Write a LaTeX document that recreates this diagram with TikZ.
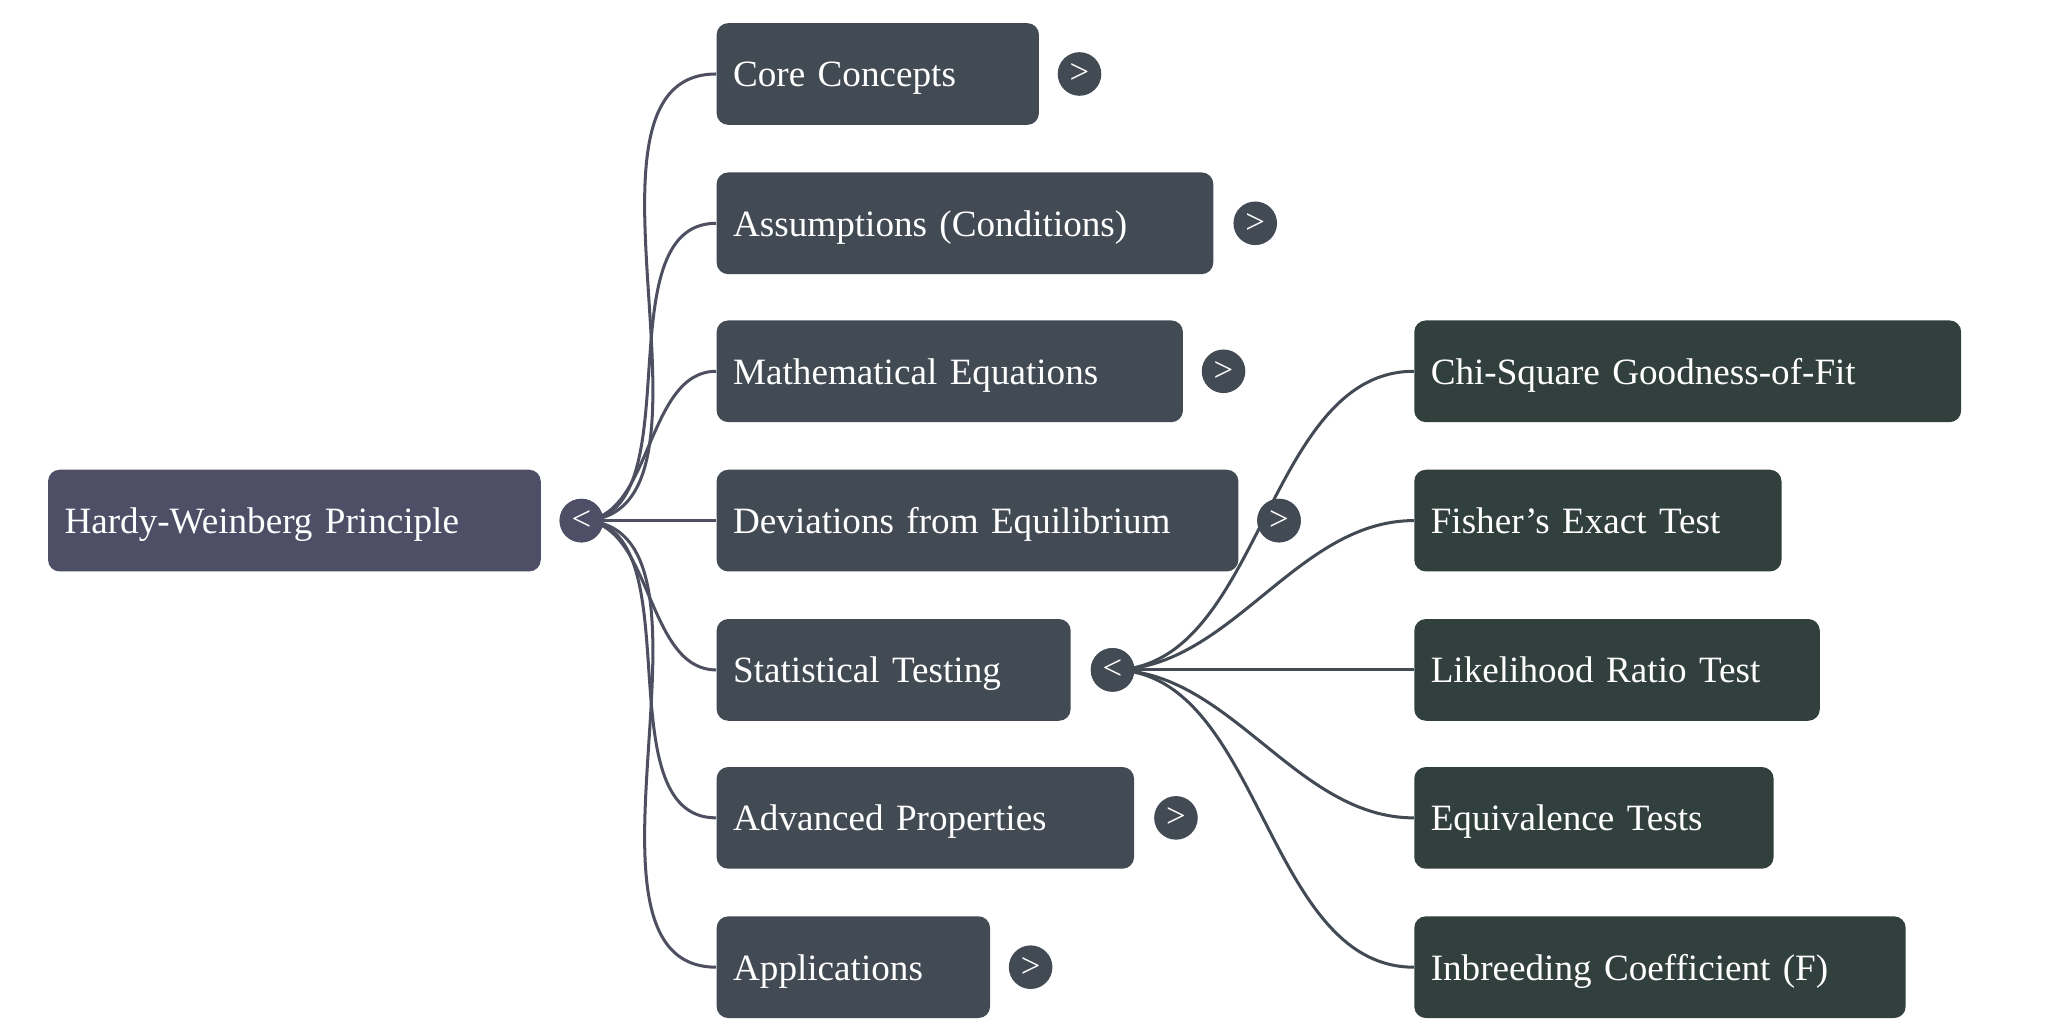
\documentclass[tikz,border=0pt]{standalone}
\usepackage{fontspec}
\setmainfont{Liberation Serif}
\usetikzlibrary{positioning}

\definecolor{rootfill}{HTML}{4E4F66}
\definecolor{topicfill}{HTML}{424A54}
\definecolor{testfill}{HTML}{313F3D}
\definecolor{linkgray}{HTML}{4E5062}

\tikzset{
  box/.style={draw=none, rounded corners=5pt, minimum height=1.54cm, text=white,
    font=\fontsize{16}{18}\selectfont, anchor=west, text depth=0pt},
  rootbox/.style={box, fill=rootfill},
  topicbox/.style={box, fill=topicfill},
  testbox/.style={box, fill=testfill},
  toggle/.style={circle, fill=topicfill, minimum size=0.66cm, inner sep=0pt, text=white,
    font=\fontsize{15}{15}\selectfont},
  link/.style={draw=linkgray, line width=1.3pt, out=0, in=180, looseness=0.9}
}

\begin{document}
\begin{tikzpicture}[x=0.02cm, y=-0.02cm]
        \useasboundingbox (0,0) rectangle (1550,780);
        % root
        \node[rootbox, minimum width=7.46cm, text width=6.96cm] (hw) at (36,394) {Hardy-Weinberg Principle};
        \node[toggle, fill=rootfill] (hwt) at (440,394) {<};
        % first level
        \node[topicbox, minimum width=4.88cm, text width=4.38cm] (core) at (542,56) {Core Concepts};
        \node[topicbox, minimum width=7.52cm, text width=7.02cm] (assum) at (542,169) {Assumptions (Conditions)};
        \node[topicbox, minimum width=7.06cm, text width=6.56cm] (math) at (542,281) {Mathematical Equations};
        \node[topicbox, minimum width=7.90cm, text width=7.40cm] (dev) at (542,394) {Deviations from Equilibrium};
        \node[topicbox, minimum width=5.36cm, text width=4.86cm] (stat) at (542,507) {Statistical Testing};
        \node[topicbox, minimum width=6.32cm, text width=5.82cm] (adv) at (542,619) {Advanced Properties};
        \node[topicbox, minimum width=4.14cm, text width=3.64cm] (app) at (542,732) {Applications};
        \node[toggle] (coret) at (817,56) {>};
        \node[toggle] (assumt) at (950,169) {>};
        \node[toggle] (matht) at (926,281) {>};
        \node[toggle] (devt) at (968,394) {>};
        \node[toggle] (statt) at (842,507) {<};
        \node[toggle] (advt) at (890,619) {>};
        \node[toggle] (appt) at (780,732) {>};
        % second level
        \node[testbox, minimum width=8.28cm, text width=7.78cm] (chi) at (1070,281) {Chi-Square Goodness-of-Fit};
        \node[testbox, minimum width=5.56cm, text width=5.06cm] (fisher) at (1070,394) {Fisher's Exact Test};
        \node[testbox, minimum width=6.14cm, text width=5.64cm] (lik) at (1070,507) {Likelihood Ratio Test};
        \node[testbox, minimum width=5.44cm, text width=4.94cm] (equi) at (1070,619) {Equivalence Tests};
        \node[testbox, minimum width=7.44cm, text width=6.94cm] (inb) at (1070,732) {Inbreeding Coefficient (F)};
        % links
        \foreach \t in {core,assum,math,dev,stat,adv,app}
          \path[link] (hwt.center) to (\t.west);
        \foreach \t in {chi,fisher,lik,equi,inb}
          \path[link, draw=topicfill] (statt.center) to (\t.west);
        \node[toggle, fill=rootfill] at (hwt) {<};
        \node[toggle] at (statt) {<};
        \node[toggle] at (devt) {>};
\end{tikzpicture}
\end{document}
